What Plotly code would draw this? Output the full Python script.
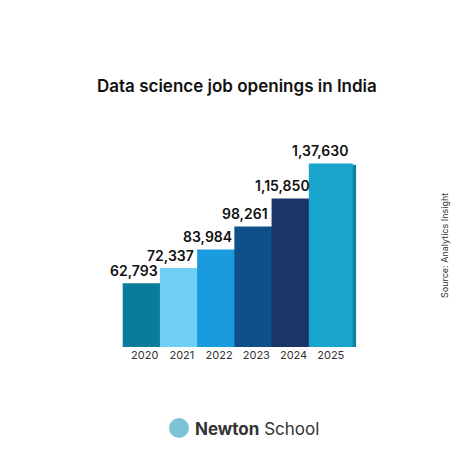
import plotly.graph_objects as go

years = ["2020", "2021", "2022", "2023", "2024", "2025"]
openings = [62793, 72337, 83984, 98261, 115850, 137630]
labels = ["62,793", "72,337", "83,984", "98,261", "1,15,850", "1,37,630"]
colors = ["#0a7c99", "#6fcff5", "#1a9be0", "#0f4f8a", "#1a3566", "#1aa6cc"]
side_colors = ["#075c73", "#4fa9cc", "#137bb5", "#0a3a68", "#10244a", "#12819f"]

base = 23000
xs = list(range(len(years)))
L, R, T, B = 92, 114, 142, 135
OFF = 8

fig = go.Figure()
for i in xs:
    fig.add_trace(go.Bar(x=[i + 0.06], y=[openings[i] - base - 800], base=base, width=1.24,
                         marker=dict(color=side_colors[i], line=dict(width=0)),
                         hoverinfo="skip", showlegend=False))
    fig.add_trace(go.Bar(x=[i], y=[openings[i] - base], base=base, width=1.18,
                         marker=dict(color=colors[i], line=dict(width=0)),
                         hoverinfo="skip", showlegend=False))

pw, ph = 474 - L - R, 474 - T - B
def px(xp, yp):
    xp -= OFF; yp -= OFF
    return (xp - L) / pw, (474 - B - yp) / ph

anns = []
for i in xs:
    anns.append(dict(text=labels[i], x=i - 0.3, y=openings[i] + 1500, xref="x", yref="y",
                     yanchor="bottom", showarrow=False,
                     font=dict(family="Inter", size=14, color="#111111", weight=600)))
tx, ty = px(237, 74)
anns.append(dict(text="Data science job openings in India", x=tx, y=ty, xref="paper", yref="paper",
                 showarrow=False, font=dict(family="Inter", size=17, color="#111111", weight=600)))
sx, sy = px(452, 300)
anns.append(dict(text="Source: Analytics Insight", textangle=-90, x=sx, y=sy, xref="paper", yref="paper",
                 showarrow=False, font=dict(family="Inter", size=9, color="#333333")))
nx, ny = px(257, 441)
anns.append(dict(text="<b>Newton</b> School", x=nx, y=ny, xref="paper", yref="paper", showarrow=False,
                 font=dict(family="Inter", size=17, color="#333333")))

fig.update_layout(
    width=474, height=474, barmode="overlay",
    paper_bgcolor="white", plot_bgcolor="white",
    margin=dict(l=L, r=R, t=T, b=B),
    xaxis=dict(range=[-1.2, 6.0], tickmode="array", tickvals=xs, ticktext=years,
               showgrid=False, zeroline=False, showline=False, ticks="",
               tickfont=dict(family="Inter", size=11, color="#333333")),
    yaxis=dict(range=[base, 146100], visible=False),
    annotations=anns,
)
cx, cy = px(179, 428)
rx, ry = 10 / pw, 10 / ph
fig.add_shape(type="circle", xref="paper", yref="paper", x0=cx - rx, x1=cx + rx, y0=cy - ry, y1=cy + ry,
              fillcolor="#7cc3d6", line=dict(width=0))
fig.write_html("out.html")
